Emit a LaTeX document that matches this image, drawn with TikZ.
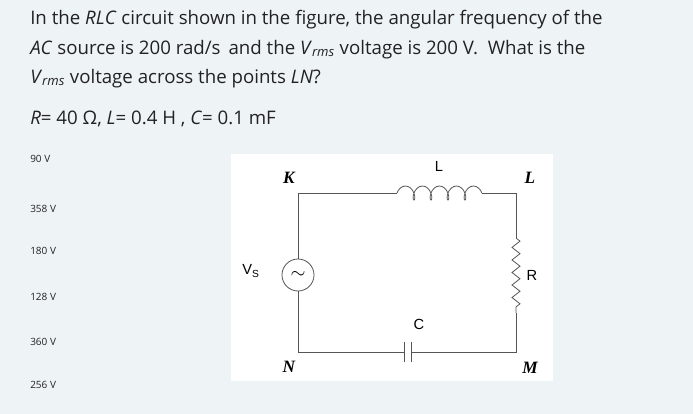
\documentclass[tikz,border=0pt]{standalone}
\usepackage{fontspec}
\setmainfont{Open Sans}
\newfontfamily\serifb{Liberation Serif}
\newfontfamily\sansc{Liberation Sans}
\usetikzlibrary{decorations.pathmorphing}
\definecolor{bg}{HTML}{EEF3F5}
\definecolor{txt}{HTML}{222222}
\definecolor{wire}{HTML}{555555}
\begin{document}
\begin{tikzpicture}[x=0.75pt,y=-0.75pt,
  q/.style={anchor=base west,inner sep=0,text=txt,font=\fontsize{14}{16}\selectfont},
  opt/.style={anchor=base west,inner sep=0,text=txt,font=\fontsize{7.5}{9}\selectfont},
  pt/.style={inner sep=0,font=\serifb\bfseries\itshape\fontsize{13}{15}\selectfont},
  el/.style={inner sep=0,font=\sansc\fontsize{11}{13}\selectfont},
  w/.style={draw=wire,line width=0.6pt}]
\fill[bg] (0,0) rectangle (693,414);
\useasboundingbox (0,0) rectangle (693,414);
\node[q] (l1) at (30,24) {In the \textit{RLC} circuit shown in the figure, the angular frequency of the};
\node[q] (l2) at (30,54) {\textit{AC} source is 200 rad/s\, and the \textit{V}\textsubscript{\textit{rms}} voltage is 200 V.\ \ What is the};
\node[q] (l3) at (30,83) {\textit{V}\textsubscript{\textit{rms}} voltage across the points \textit{LN}?};
\node[q] (l4) at (30,124) {\textit{R}= 40 Ω, \textit{L}= 0.4 H ,\ \textit{C}= 0.1 mF};
\node[opt] (o1) at (30,162) {90 V};
\node[opt] (o2) at (30,212) {358 V};
\node[opt] (o3) at (30,254) {180 V};
\node[opt] (o4) at (30,300) {128 V};
\node[opt] (o5) at (30,345) {360 V};
\node[opt] (o6) at (30,388) {256 V};
\fill[white] (231,154) rectangle (553,381);
\coordinate (K) at (298,193);
\coordinate (Lc) at (516,193);
\coordinate (M) at (516,352);
\coordinate (N) at (298,352);
\node[circle,draw=wire,line width=0.6pt,minimum size=24pt,inner sep=0] (src) at (298,275) {\fontsize{14}{14}\selectfont$\sim$};
\coordinate (ia) at (397,193); \coordinate (ib) at (482,193);
\coordinate (ra) at (516,238); \coordinate (rb) at (516,313);
\coordinate (ca) at (404,352); \coordinate (cb) at (411,352);
\draw[w] (src.north) -- (K) -- (ia);
\draw[w] (ib) -- (Lc) -- (ra);
\draw[w,decorate,decoration={coil,aspect=0.6,segment length=12.75pt,amplitude=5.25pt}] (ia) -- (ib);
\draw[w,decorate,decoration={zigzag,segment length=9.4pt,amplitude=3pt}] (ra) -- (rb);
\draw[w] (rb) -- (M) -- (cb);
\draw[w] (ca) -- (N) -- (src.south);
\draw[w] (404,342) -- (404,362) (411,342) -- (411,362);
\node[pt] (tK) at (289,178) {K};
\node[pt] (tL) at (530,178) {L};
\node[pt] (tN) at (289,367) {N};
\node[pt] (tM) at (530,368) {M};
\node[el] (lL) at (439,166) {L};
\node[el] (lR) at (532,275) {R};
\node[el] (lC) at (419,324) {C};
\node[el] (lV) at (251,271) {V\textsubscript{S}};
\end{tikzpicture}
\end{document}
